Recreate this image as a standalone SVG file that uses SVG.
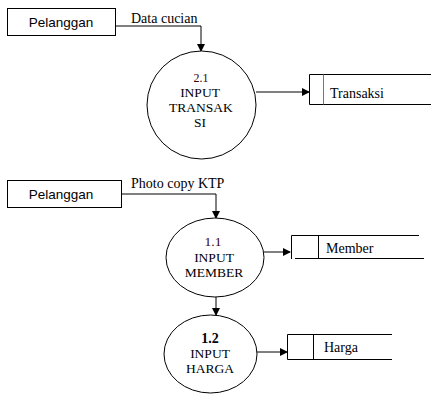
<svg xmlns="http://www.w3.org/2000/svg" width="444" height="400" viewBox="0 0 444 400">
<defs>
<style>
.box{fill:#fff;stroke:#000;stroke-width:1}
.proc{fill:#fff;stroke:#000;stroke-width:1}
.ln{fill:none;stroke:#000;stroke-width:1}
.sans{font-family:"Liberation Sans","Noto Sans",sans-serif;font-size:13.5px;fill:#000}
.serif{font-family:"Liberation Serif","DejaVu Serif",serif;font-size:14px;fill:#000}
.pt{font-family:"Liberation Serif","DejaVu Serif",serif;font-size:13.5px;fill:#000;text-anchor:middle}
.num{fill:#3a0000}
</style>
<marker id="arr" markerWidth="8" markerHeight="8" refX="7" refY="4" orient="auto" markerUnits="userSpaceOnUse">
<path d="M0,0 L8,4 L0,8 z" fill="#000"/>
</marker>
</defs>

<g id="connectors">
<polyline class="ln" points="116,26 201,26 201,51" marker-end="url(#arr)"/>
<line class="ln" x1="256" y1="92" x2="309" y2="92" marker-end="url(#arr)"/>
<polyline class="ln" points="122,194 216,194 216,218" marker-end="url(#arr)"/>
<line class="ln" x1="264" y1="252" x2="290" y2="252" stroke="#555" marker-end="url(#arr)"/>
<line class="ln" x1="216" y1="297" x2="216" y2="315" marker-end="url(#arr)"/>
<line class="ln" x1="257" y1="352" x2="287" y2="352" marker-end="url(#arr)"/>
<text class="serif" x="131" y="23">Data cucian</text>
<text class="serif" x="131" y="188">Photo copy KTP</text>
</g>

<g id="pelanggan1">
<rect class="box" x="7.5" y="8.5" width="108" height="27"/>
<text class="sans" x="61" y="27" text-anchor="middle">Pelanggan</text>
</g>

<g id="proc21">
<ellipse class="proc" cx="201.5" cy="105" rx="54.5" ry="54"/>
<text class="pt num" x="201" y="82" style="font-size:12px">2.1</text>
<text class="pt" x="200" y="97">INPUT</text>
<text class="pt" x="201" y="112">TRANSAK</text>
<text class="pt" x="200" y="127">SI</text>
</g>

<g id="transaksi">
<polyline class="ln" points="431,74.5 309.5,74.5 309.5,104.5 431,104.5"/>
<line x1="323.5" y1="74.5" x2="323.5" y2="104.5" stroke="#777" stroke-width="1"/>
<text class="serif" x="330" y="98">Transaksi</text>
</g>

<g id="pelanggan2">
<rect class="box" x="7.5" y="180.5" width="114" height="27"/>
<text class="sans" x="61" y="199" text-anchor="middle">Pelanggan</text>
</g>

<g id="proc11">
<ellipse class="proc" cx="215" cy="257.5" rx="49" ry="39.5"/>
<text class="pt num" x="213" y="246">1.1</text>
<text class="pt" x="214" y="262">INPUT</text>
<text class="pt" x="214" y="277">MEMBER</text>
</g>

<g id="member">
<line class="ln" x1="291.5" y1="235.5" x2="419" y2="235.5"/>
<line class="ln" x1="291.5" y1="235.5" x2="291.5" y2="259"/>
<line class="ln" x1="295" y1="258.5" x2="424" y2="258.5"/>
<line class="ln" x1="318.5" y1="235.5" x2="318.5" y2="258.5"/>
<text class="serif" x="326" y="253">Member</text>
</g>

<g id="proc12">
<ellipse class="proc" cx="210.5" cy="354" rx="46.5" ry="39"/>
<text class="pt" x="210" y="343" style="font-weight:bold;font-size:14px">1.2</text>
<text class="pt" x="210" y="358">INPUT</text>
<text class="pt" x="210" y="373">HARGA</text>
</g>

<g id="harga">
<polyline class="ln" points="392,334.5 287.5,334.5 287.5,359.5 392,359.5"/>
<line class="ln" x1="313.5" y1="334.5" x2="313.5" y2="359.5"/>
<text class="serif" x="324" y="352">Harga</text>
</g>
</svg>
